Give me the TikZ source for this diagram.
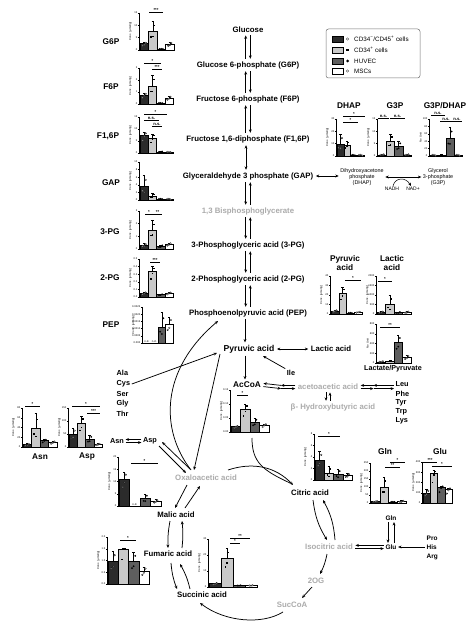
\documentclass[tikz,border=0pt]{standalone}
\usepackage{fontspec}
\setmainfont{Liberation Sans}
\usetikzlibrary{calc,arrows.meta}
\definecolor{c1}{HTML}{2B2B2B}
\definecolor{c2}{HTML}{C9C9C9}
\definecolor{c3}{HTML}{5E5E5E}
\definecolor{c4}{HTML}{FFFFFF}
\definecolor{gtxt}{HTML}{ABABAB}
\tikzset{
 pw/.style={font=\bfseries\fontsize{7.8}{9}\selectfont, inner sep=2.4pt},
 pwg/.style={pw, text=gtxt},
 aa/.style={font=\bfseries\fontsize{7.3}{8}\selectfont, inner sep=1.5pt},
 aas/.style={font=\bfseries\fontsize{6.5}{7}\selectfont, inner sep=1.5pt},
 ttl/.style={font=\bfseries\fontsize{8.3}{9}\selectfont, inner sep=1pt, align=center},
 sml/.style={font=\fontsize{5.4}{6}\selectfont, align=center, inner sep=1.5pt},
 legt/.style={font=\fontsize{6.3}{7}\selectfont, anchor=west, inner sep=0pt},
 arr/.style={-{Stealth[length=3.4pt,width=2.9pt]}, line width=0.75pt},
 darr/.style={{Stealth[length=3.4pt,width=2.9pt]}-{Stealth[length=3.4pt,width=2.9pt]}, line width=0.75pt},
 axl/.style={line width=0.4pt},
 tklab/.style={font=\fontsize{2.6}{3}\selectfont, inner sep=0.4pt},
 ylab/.style={font=\fontsize{2.8}{3}\selectfont, inner sep=0pt, rotate=90},
 sigl/.style={line width=0.35pt},
 sigt/.style={font=\bfseries\fontsize{4.2}{4.5}\selectfont, inner sep=0.2pt, anchor=south},
 ndt/.style={font=\fontsize{2.8}{3}\selectfont, inner sep=0pt, anchor=south},
 mko/.style={fill=white, draw=black, line width=0.25pt},
}
\newcommand\mk[3]{\ifcase#1\or
  \draw[mko] (#2,#3) circle (0.85);\or
  \fill (#2-0.75,#3-0.75) rectangle (#2+0.75,#3+0.75);\or
  \fill (#2,#3-1) -- (#2+1,#3) -- (#2,#3+1) -- (#2-1,#3) -- cycle;\or
  \draw[mko] (#2,#3) circle (0.85);\fi}
% #1 x0 #2 ytop #3 ybot #4 x1 #5 intervals #6 ticks #7 bars v/e #8 ylabel
\newcommand\minichart[8]{%
  \draw[axl] (#1,#2) -- (#1,#3) -- (#4,#3);
  \foreach \t [count=\k from 0] in {#6} {%
    \pgfmathsetmacro\yy{#3-\k*(#3-#2)/#5}
    \draw[axl] (#1,\yy) -- (#1-1.2,\yy) node[tklab,anchor=east] {\t};
  }
  \pgfmathsetmacro\bw{(#4-#1-2)/4}
  \foreach \v/\e [count=\i] in {#7} {%
    \pgfmathsetmacro\xa{#1+1+(\i-1)*\bw}
    \pgfmathsetmacro\xb{\xa+\bw}
    \pgfmathsetmacro\xm{\xa+\bw/2}
    \pgfmathsetmacro\yt{#3-\v*(#3-#2)}
    \pgfmathsetmacro\ye{#3-(\v+\e)*(#3-#2)}
    \pgfmathsetmacro\ya{#3-max(\v*0.7,0.03)*(#3-#2)}
    \pgfmathsetmacro\yb{#3-(\v+0.6*\e)*(#3-#2)}
    \pgfmathsetmacro\yc{#3-max(\v-0.5*\e,0.03)*(#3-#2)}
    \ifdim\v pt>0pt
      \draw[line width=0.45pt, fill=c\i] (\xa,#3) rectangle (\xb,\yt);
      \draw[line width=0.35pt] (\xm,\yt) -- (\xm,\ye) (\xm-1.2,\ye) -- (\xm+1.2,\ye);
      \mk{\i}{\xm-1.6}{\ya}
      \mk{\i}{\xm+1.6}{\yb}
      \mk{\i}{\xm}{\yc}
    \fi
  }
  \node[ylab] at (#1-8.5,{(#2+#3)/2}) {#8};
}
\newcommand\sg[4]{\draw[sigl] (#1,#3) -- (#2,#3); \node[sigt] at ({(#1+#2)/2},#3) {#4};}
\newcommand\updown[2]{%
 \draw[arr] ([xshift=-2.3pt]#2.north) -- ([xshift=-2.3pt]#1.south);
 \draw[arr] ([xshift=2.3pt]#1.south) -- ([xshift=2.3pt]#2.north);}
\newcommand\downup[2]{%
 \draw[arr] ([xshift=-2.3pt]#1.south) -- ([xshift=-2.3pt]#2.north);
 \draw[arr] ([xshift=2.3pt]#2.north) -- ([xshift=2.3pt]#1.south);}
\begin{document}
\begin{tikzpicture}[x=1pt,y=-1pt]
\fill[white] (0,0) rectangle (474,631);
\useasboundingbox (0,0) rectangle (474,631);

% ---------- pathway nodes ----------
\node[pw] (glc) at (248,30) {Glucose};
\node[pw] (g6p) at (248,65) {Glucose 6-phosphate (G6P)};
\node[pw] (f6p) at (248,99) {Fructose 6-phosphate (F6P)};
\node[pw] (f16p) at (248,139) {Fructose 1,6-diphosphate (F1,6P)};
\node[pw] (gap) at (248,176) {Glyceraldehyde 3 phosphate (GAP)};
\node[pwg] (bpg) at (248,211) {1,3 Bisphosphoglycerate};
\node[pw] (pg3) at (248,245) {3-Phosphoglyceric acid (3-PG)};
\node[pw] (pg2) at (248,279) {2-Phosphoglyceric acid (2-PG)};
\node[pw] (pep) at (248,313) {Phosphoenolpyruvic acid (PEP)};
\node[pw, font=\bfseries\fontsize{8.6}{9}\selectfont] (pyr) at (249,349) {Pyruvic acid};
\node[pw] (lac) at (331,349) {Lactic acid};
\node[aa] (ile) at (291,373) {Ile};
\node[pw, font=\bfseries\fontsize{8.3}{9}\selectfont] (acoa) at (247,385) {AcCoA};
\node[pwg] (aceto) at (328,387) {acetoacetic acid};
\node[pwg] (bhb) at (333,407) {β- Hydroxybutyric acid};
\node[aa,anchor=west] (leu) at (394,384) {Leu};
\node[aa,anchor=west] (phe) at (394,394) {Phe};
\node[aa,anchor=west] (tyr) at (394,403) {Tyr};
\node[aa,anchor=west] (trp) at (394,412) {Trp};
\node[aa,anchor=west] (lys) at (394,421) {Lys};
\node[aa,anchor=west] (ala) at (115,373) {Ala};
\node[aa,anchor=west] (cys) at (115,384) {Cys};
\node[aa,anchor=west] (ser) at (115,394) {Ser};
\node[aa,anchor=west] (gly) at (115,404) {Gly};
\node[aa,anchor=west] (thr) at (115,414) {Thr};
\node[aa] (asn) at (117,441) {Asn};
\node[aa] (asp) at (150,441) {Asp};
\node[pwg] (oaa) at (206,478) {Oxaloacetic acid};
\node[pw] (mal) at (176,515) {Malic acid};
\node[pw] (fum) at (168,554) {Fumaric acid};
\node[pw] (suc) at (202,595) {Succinic acid};
\node[pw] (cit) at (310,493) {Citric acid};
\node[pwg] (iso) at (329,547) {Isocitric acid};
\node[pwg] (og) at (316,581) {2OG};
\node[pwg] (scoa) at (292,605) {SucCoA};
\node[aas] (gln2) at (391,518) {Gln};
\node[aas] (glu2) at (391,547) {Glu};
\node[aas,anchor=west] (pro) at (425,538) {Pro};
\node[aas,anchor=west] (his) at (425,547) {His};
\node[aas,anchor=west] (arg) at (425,557) {Arg};
\node[sml] (dhapt) at (362,177) {Dihydroxyacetone\\phosphate\\(DHAP)};
\node[sml] (g3pt) at (438,177) {Glycerol\\3-phosphate\\(G3P)};
\node[font=\fontsize{5}{5}\selectfont, inner sep=1pt] (nadh) at (392,189) {NADH};
\node[font=\fontsize{5}{5}\selectfont, inner sep=1pt] (nad) at (413,189) {NAD+};
\coordinate (acb) at (252,438);

% ---------- titles ----------
\node[ttl] (tg6p) at (111,42) {G6P};
\node[ttl] (tf6p) at (111,87) {F6P};
\node[ttl] (tf16p) at (108,136) {F1,6P};
\node[ttl] (tgap) at (111,183) {GAP};
\node[ttl] (t3pg) at (110,232) {3-PG};
\node[ttl] (t2pg) at (110,278) {2-PG};
\node[ttl] (tpep) at (111,325) {PEP};
\node[ttl] (tdhap) at (349,106) {DHAP};
\node[ttl] (tg3p) at (395,106) {G3P};
\node[ttl] (tg3pd) at (445,106) {G3P/DHAP};
\node[ttl] (tpyr) at (345,263) {Pyruvic\\acid};
\node[ttl] (tlac) at (392,263) {Lactic\\acid};
\node[ttl, font=\bfseries\fontsize{7.2}{8}\selectfont] (tlp) at (393,369) {Lactate/Pyruvate};
\node[ttl] (tasn) at (40,457) {Asn};
\node[ttl] (tasp) at (87,457) {Asp};
\node[ttl] (tgln) at (385,452) {Gln};
\node[ttl] (tglu) at (440,452) {Glu};

% ---------- legend ----------
\draw[rounded corners=2.5pt, draw=black!55, line width=0.5pt] (326,29) rectangle (420,78);
\draw[line width=0.3pt, fill=c1] (332,36) rectangle (343,42);
\draw[line width=0.3pt, fill=c2] (332,47) rectangle (343,53);
\draw[line width=0.3pt, fill=c3] (332,58) rectangle (343,64);
\draw[line width=0.3pt, fill=c4] (332,68) rectangle (343,74);
\draw[mko] (347.5,39) circle (1.2);
\fill (346.3,48.8) rectangle (348.7,51.2);
\fill (347.5,59.5) -- (349,61) -- (347.5,62.5) -- (346,61) -- cycle;
\draw[mko] (347.5,71) circle (1.2);
\node[legt] (leg1) at (354,39) {CD34\textsuperscript{−}/CD45\textsuperscript{+} cells};
\node[legt] (leg2) at (354,50) {CD34\textsuperscript{+} cells};
\node[legt] (leg3) at (354,61) {HUVEC};
\node[legt] (leg4) at (354,71) {MSCs};

% ---------- charts ----------
\minichart{139}{13}{50}{175}{3}{0,5,10,15}{0.17/0.04,0.5/0.27,0.02/0.01,0.16/0.05}{Conc. [µmol/g]}
\minichart{139}{68}{104}{174}{3}{0,1,2,3}{0.25/0.05,0.5/0.3,0.02/0.01,0.17/0.05}{Conc. [µmol/g]}
\minichart{139}{117}{153}{174}{3}{0,5,10,15}{0.5/0.08,0.42/0.1,0.03/0.02,0.02/0.01}{Conc. [µmol/g]}
\minichart{139}{162}{200}{174}{5}{0,2,4,6,8,10}{0.35/0.3,0.1/0.07,0.02/0.01,0.01/0.005}{Conc. [µmol/g]}
\minichart{139}{211}{249}{174}{3}{0,1,2,3}{0.1/0.05,0.5/0.25,0.07/0.04,0.13/0.03}{Conc. [µmol/g]}
\minichart{139}{259}{297}{174}{5}{0.0,0.1,0.2,0.3,0.4,0.5}{0.1/0.03,0.68/0.12,0.06/0.02,0.1/0.02}{Conc. [µmol/g]}
\minichart{142}{307}{343}{174}{5}{0.000,0.0005,0.0010,0.0015,0.0020,0.0025}{0/0,0/0,0.45/0.4,0.52/0.2}{Conc. [µmol/g]}
\node[ndt] at (146.8,342.5) {n.d.};
\node[ndt] at (154.2,342.5) {n.d.};
\minichart{336}{119}{156}{365}{3}{0,10,20,30}{0.33/0.25,0.3/0.1,0.01/0,0.01/0}{Conc. [µmol/g]}
\minichart{377}{119}{156}{412}{3}{0,5,10,15}{0.03/0.02,0.4/0.2,0.27/0.12,0.03/0.02}{Conc. [µmol/g]}
\minichart{429}{119}{156}{463}{5}{0,20,40,60,80,100}{0.01/0,0.02/0,0.48/0.3,0.01/0}{No Unit}
\minichart{330}{276}{314}{363}{4}{0,10,20,30,40}{0.08/0.02,0.55/0.15,0.02/0.01,0.05/0.01}{Conc. [µmol/g]}
\minichart{376}{276}{314}{412}{4}{0,500,1000,1500,2000}{0.05/0.02,0.25/0.25,0.04/0.02,0.05/0.02}{Conc. [µmol/g]}
\minichart{376}{324}{363}{412}{4}{0,200,400,600,800}{0.03/0.02,0.05/0.02,0.52/0.2,0.15/0.05}{No Unit}
\minichart{230}{390}{432}{270}{3}{0.00,0.05,0.10,0.15}{0.13/0.02,0.55/0.12,0.23/0.1,0.17/0.02}{Conc. [µmol/g]}
\minichart{22}{408}{447}{58}{4}{0,20,40,60,80}{0.06/0.03,0.47/0.4,0.17/0.03,0.12/0.03}{Conc. [µmol/g]}
\minichart{68}{408}{447}{103}{3}{0,50,100,150}{0.33/0.15,0.6/0.2,0.2/0.1,0.07/0.02}{Conc. [µmol/g]}
\minichart{118}{457}{506}{162}{4}{0,5,10,15,20}{0.55/0.15,0/0,0.15/0.1,0.1/0.03}{Conc. [µmol/g]}
\node[ndt] at (134.8,505.5) {n.d.};
\minichart{314}{434}{480}{353}{4}{0,2,4,6,8}{0.44/0.18,0.15/0.15,0.12/0.12,0.1/0.05}{Conc. [µmol/g]}
\minichart{370}{463}{503}{407}{5}{0,50,100,150,200,250}{0.04/0.01,0.4/0.25,0.02/0.01,0.04/0.02}{Conc. [µmol/g]}
\minichart{422}{462}{503}{453}{4}{0,100,200,300,400}{0.25/0.08,0.72/0.08,0.38/0.04,0.33/0.04}{Conc. [µmol/g]}
\minichart{107}{537}{584}{150}{4}{0.0,0.5,1.0,1.5,2.0}{0.48/0.22,0.75/0.01,0.48/0.2,0.28/0.08}{Conc. [µmol/g]}
\minichart{208}{539}{587}{258}{3}{0,10,20,30}{0.07/0.02,0.6/0.2,0.03/0.01,0.03/0.01}{Conc. [µmol/g]}

% ---------- significance ----------
\sg{149}{163}{12}{***}
\sg{144}{161}{63}{*} \sg{152}{162}{69}{***}
\sg{144}{167}{114}{*} \sg{144}{159}{120}{n.s.} \sg{152}{162}{126}{n.s.}
\sg{145}{153}{214}{*} \sg{153}{162}{214}{**}
\sg{150}{160}{262}{***}
\sg{343}{365}{116}{*} \sg{343}{358}{122}{*}
\sg{378}{389}{118}{n.s.} \sg{390}{405}{118}{n.s.}
\sg{431}{445}{115}{n.s.} \sg{440}{452}{121}{n.s.} \sg{452}{462}{121}{n.s.}
\sg{345}{361}{280}{*}
\sg{378}{392}{281}{*}
\sg{380}{400}{327}{**}
\sg{237}{248}{395}{*}
\sg{25}{40}{406}{*}
\sg{72}{100}{406}{*} \sg{87}{100}{413}{***}
\sg{131}{158}{463}{*}
\sg{318}{340}{436}{*}
\sg{390}{405}{462}{*} \sg{385}{400}{467}{**}
\sg{423}{437}{462}{***} \sg{432}{452}{466}{*}
\sg{120}{136}{540}{*}
\sg{230}{250}{538}{**} \sg{230}{240}{543}{*}

% ---------- glycolysis connectors ----------
\updown{glc}{g6p}
\updown{g6p}{f6p}
\updown{f6p}{f16p}
\draw[darr] ([xshift=-2pt]f16p.south) -- ([xshift=-2pt]gap.north);
\downup{gap}{bpg}
\downup{bpg}{pg3}
\downup{pg3}{pg2}
\downup{pg2}{pep}
\draw[arr, line width=1pt] ([xshift=-3pt]pep.south) -- ([xshift=-3pt]pep.south |- pyr.north);
\draw[arr, line width=1pt] ([xshift=-4pt]pyr.south) -- ([xshift=-4pt]pyr.south |- acoa.north);
\draw[darr, line width=0.55pt] (gap.east) -- (dhapt.west |- gap.east);
\draw[darr, line width=0.55pt] (dhapt.east) -- (g3pt.west);
\draw[arr, line width=0.5pt] ($(nadh.north)+(1,0)$) .. controls (395,177) and (406,177) .. ($(nad.north)+(-2,0)$);
\draw[darr] (pyr.east) -- (lac.west);
\draw[arr] (ile.north west) -- ($(pyr)+(14,7)$);

% ---------- AcCoA / ketone / amino acids ----------
\coordinate (m1) at (281,387);
\draw[arr] ([yshift=1.6pt]m1) -- ([yshift=1.6pt]acoa.east);
\draw[arr] ([yshift=-1.6pt]acoa.east) -- ([yshift=-1.6pt]m1);
\draw[arr] ([yshift=1.6pt]aceto.west) -- ([yshift=1.6pt]m1);
\draw[arr] ([yshift=-1.6pt]m1) -- ([yshift=-1.6pt]aceto.west);
\coordinate (m2) at (373.5,387);
\draw[arr] ([yshift=1.6pt]m2) -- ([yshift=1.6pt]aceto.east);
\draw[arr] ([yshift=-1.6pt]aceto.east) -- ([yshift=-1.6pt]m2);
\draw[arr] ([yshift=1.6pt]leu.west |- m2) -- ([yshift=1.6pt]m2);
\draw[arr] ([yshift=-1.6pt]m2) -- ([yshift=-1.6pt]leu.west |- m2);
\draw[arr, line width=0.55pt] ([xshift=-2pt]aceto.south) -- ([xshift=-2pt]aceto.south |- bhb.north);
\draw[arr, line width=0.55pt] ([xshift=2pt]aceto.south |- bhb.north) -- ([xshift=2pt]aceto.south);
\draw[arr] (cys.east) -- ($(pyr)+(-32,4)$);
\draw[arr] ([yshift=1.5pt]asp.west) -- ([yshift=1.5pt]asn.east);
\draw[arr] ([yshift=-1.5pt]asn.east) -- ([yshift=-1.5pt]asp.west);
\draw[arr] ($(oaa)+(-16,-9)$) -- ($(asp)+(12,1)$);
\draw[arr] ($(asp)+(9,5)$) -- ($(oaa)+(-20,-5)$);
\draw[arr] ($(pyr)+(-29,5)$) -- ($(oaa)+(-12,-8)$);
\draw[arr] ($(oaa)+(-15,-8)$) .. controls (160,430) and (160,370) .. ($(pep)+(-30,8)$);

% ---------- TCA cycle ----------
\draw[arr] ($(oaa)+(22,-8)$) .. controls (252,462) and (275,466) .. ($(cit)+(-17,-8)$);
\draw[line width=0.75pt] (acb) .. controls (252,462) and (262,470) .. ($(cit)+(-20,-10)$);
\draw[arr] ($(cit)+(3,7)$) to[bend right=12] ($(iso)+(-2,-7)$);
\draw[arr] ($(iso)+(6,-7)$) to[bend right=12] ($(cit)+(13,7)$);
\draw[arr] ($(iso)+(-2,7)$) to[bend left=8] ($(og)+(4,-7)$);
\draw[arr] ($(og)+(-4,6)$) -- ($(scoa)+(10,-7)$);
\draw[arr] ($(scoa)+(-9,7)$) .. controls (262,625) and (225,622) .. ($(suc)+(-2,8)$);
\draw[arr] ($(fum)+(3,9)$) to[bend right=8] ($(suc)+(-25,-6)$);
\draw[arr] ($(suc)+(-12,-6)$) to[bend right=8] ($(fum)+(12,10)$);
\draw[arr] ($(mal)+(-6,6)$) to[bend right=6] ($(fum)+(0,-6)$);
\draw[arr] ($(fum)+(14,-6)$) to[bend right=6] ($(mal)+(6,6)$);
\draw[arr] ($(oaa)+(-19,7)$) -- ($(mal)+(-1,-7)$);
\draw[arr] ($(mal)+(9,-7)$) -- ($(oaa)+(-6,8)$);

% ---------- Gln / Glu ----------
\draw[arr, line width=0.55pt] ([xshift=-3pt]gln2.south) -- ([xshift=-3pt]glu2.north);
\draw[arr, line width=0.55pt] ([xshift=3pt]glu2.north) -- ([xshift=3pt]gln2.south);
\draw[arr, line width=0.55pt] (his.west) -- (glu2.east);
\draw[arr] ([yshift=1.6pt]glu2.west) -- ([yshift=1.6pt]iso.east);
\draw[arr] ([yshift=-1.6pt]iso.east) -- ([yshift=-1.6pt]glu2.west);
\end{tikzpicture}
\end{document}
